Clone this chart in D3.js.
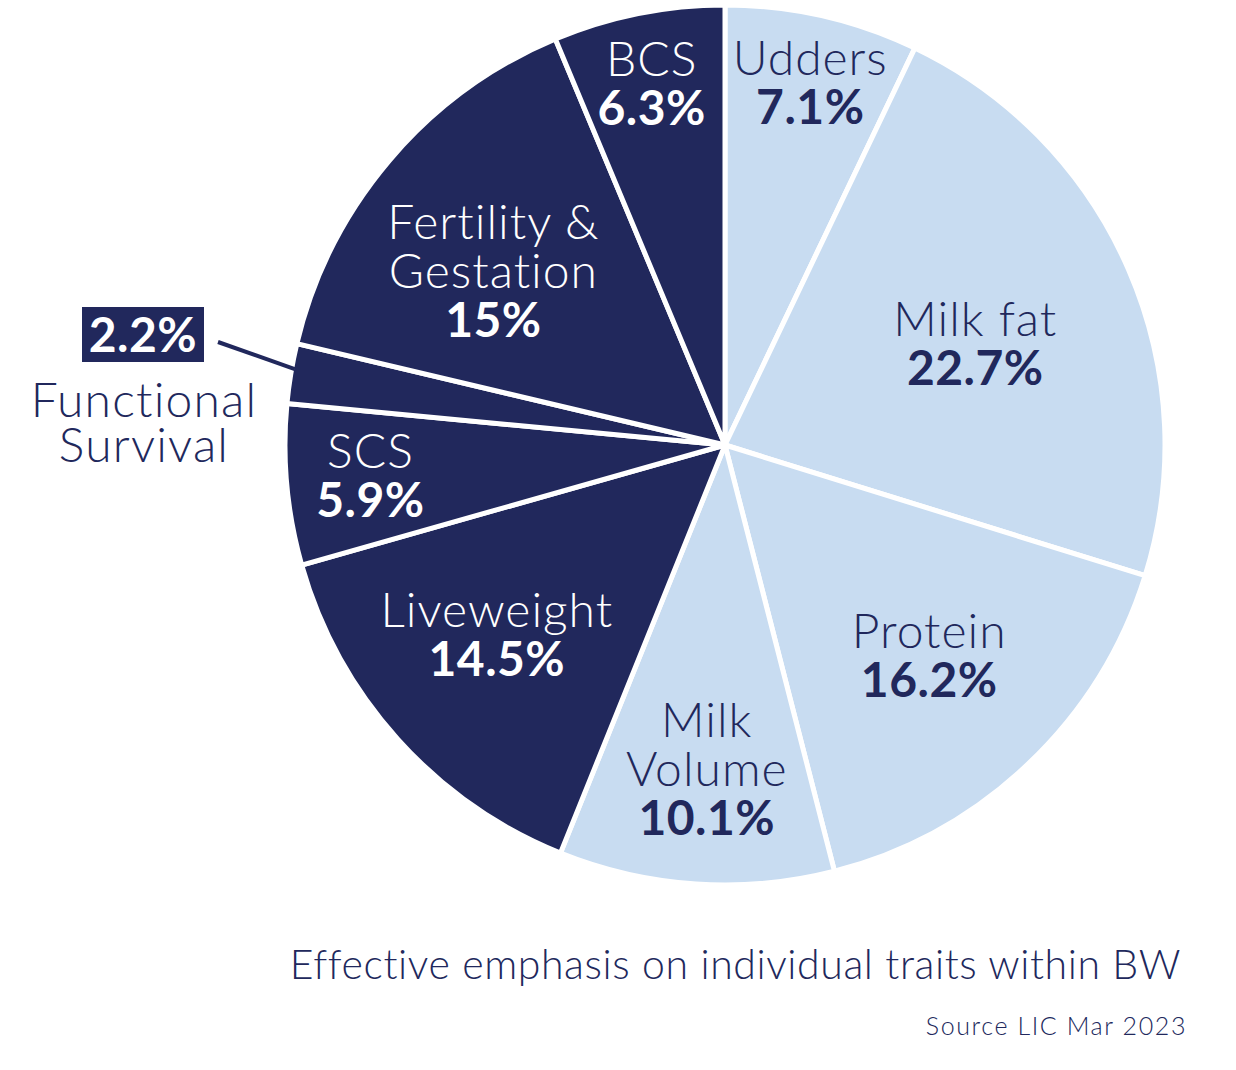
<!DOCTYPE html>
<html>
<head>
<meta charset="utf-8">
<script src="https://cdn.jsdelivr.net/npm/d3@7"></script>
<style>
  body { margin: 0; background: #fff; }
  text { font-family: Lato, "Noto Sans", sans-serif; font-variant-ligatures: none; font-feature-settings: "liga" 0; }
</style>
</head>
<body>
<div id="chart"></div>
<script>
(function() {
  // traits, clockwise from 12 o'clock
  var traits = ["Udders", "Milk fat", "Protein", "Milk Volume", "Liveweight", "SCS", "Functional Survival", "Fertility & Gestation", "BCS"];
  var emphasis = [7.1, 22.7, 16.2, 10.1, 14.5, 5.9, 2.2, 15, 6.3];
  var pctLabels = ["7.1%", "22.7%", "16.2%", "10.1%", "14.5%", "5.9%", "2.2%", "15%", "6.3%"];
  var group = ["milk", "milk", "milk", "milk", "other", "other", "other", "other", "other"];

  var width = 1236;
  var height = 1070;
  var cx = 725, cy = 445, radius = 440;

  var dark = "#21285c";
  var light = "#c8dcf1";

  // text lines per slice, distance from centre and a small nudge
  var nameLines = {
    "Udders": ["Udders"],
    "Milk fat": ["Milk fat"],
    "Protein": ["Protein"],
    "Milk Volume": ["Milk", "Volume"],
    "Liveweight": ["Liveweight"],
    "SCS": ["SCS"],
    "Fertility & Gestation": ["Fertility &", "Gestation"],
    "BCS": ["BCS"]
  };
  var labelR = {
    "Udders": 372, "Milk fat": 272, "Protein": 292, "Milk Volume": 322,
    "Liveweight": 296, "SCS": 354, "Fertility & Gestation": 288, "BCS": 368
  };
  var nudge = {
    "Udders": [3, 0], "Milk fat": [1, 7], "Protein": [3, -1], "Milk Volume": [3, 3],
    "Liveweight": [-8, -8], "SCS": [-2, -2], "Fertility & Gestation": [-12, 13], "BCS": [-1, 0]
  };

  var svg = d3.select("#chart")
    .append("svg")
    .attr("width", width)
    .attr("height", height);

  var rows = traits.map(function(t, i) {
    return { trait: t, value: emphasis[i], pct: pctLabels[i], group: group[i] };
  });

  var pie = d3.pie()
    .sort(null)
    .value(function(d) { return d.value; });

  var arc = d3.arc()
    .innerRadius(0)
    .outerRadius(radius);

  var color = d3.scaleOrdinal()
    .domain(["milk", "other"])
    .range([light, dark]);

  var arcs = pie(rows);

  var g = svg.append("g")
    .attr("transform", "translate(" + cx + "," + cy + ")");

  g.selectAll("path")
    .data(arcs)
    .enter()
    .append("path")
    .attr("d", arc)
    .attr("fill", function(d) { return color(d.data.group); })
    .attr("stroke", "#fff")
    .attr("stroke-width", 5)
    .attr("stroke-linejoin", "round");

  var lineH = 49;
  var fontSize = 48;

  // labels inside slices
  arcs.forEach(function(d) {
    var t = d.data.trait;
    if (!nameLines[t]) return;
    var lines = nameLines[t];
    var a = (d.startAngle + d.endAngle) / 2;
    var r = labelR[t];
    var x = r * Math.sin(a) + nudge[t][0];
    var y = -r * Math.cos(a) + nudge[t][1];
    var fill = d.data.group == "milk" ? dark : "#fff";
    var total = lines.length + 1;
    var top = y - (total - 1) * lineH / 2;
    var txt = g.append("text")
      .attr("text-anchor", "middle")
      .attr("fill", fill)
      .attr("font-size", fontSize);
    lines.forEach(function(l, j) {
      txt.append("tspan")
        .attr("x", x)
        .attr("y", top + j * lineH)
        .attr("dy", "0.35em")
        .attr("font-weight", 300)
        .attr("letter-spacing", 1)
        .text(l);
    });
    txt.append("tspan")
      .attr("x", x)
      .attr("y", top + lines.length * lineH)
      .attr("dy", "0.35em")
      .attr("font-weight", 700)
      .attr("letter-spacing", 0.5)
      .text(d.data.pct);
  });

  // Functional Survival sits outside with a leader line
  var fs = arcs[6];
  var fsA = (fs.startAngle + fs.endAngle) / 2;
  var edge = [cx + (radius - 4) * Math.sin(fsA), cy - (radius - 4) * Math.cos(fsA)];

  svg.append("line")
    .attr("x1", 218).attr("y1", 342)
    .attr("x2", edge[0]).attr("y2", edge[1] - 5)
    .attr("stroke", dark)
    .attr("stroke-width", 4);

  svg.append("rect")
    .attr("x", 82).attr("y", 307)
    .attr("width", 122).attr("height", 55)
    .attr("fill", dark);

  svg.append("text")
    .attr("x", 143).attr("y", 352)
    .attr("text-anchor", "middle")
    .attr("fill", "#fff")
    .attr("font-size", fontSize)
    .attr("font-weight", 700)
    .attr("letter-spacing", 0.5)
    .text(fs.data.pct);

  var fsText = svg.append("text")
    .attr("text-anchor", "middle")
    .attr("fill", dark)
    .attr("font-size", fontSize)
    .attr("font-weight", 300)
    .attr("letter-spacing", 1.2);
  ["Functional", "Survival"].forEach(function(l, j) {
    fsText.append("tspan")
      .attr("x", 144)
      .attr("y", 417 + j * 45)
      .text(l);
  });

  // caption and source
  svg.append("text")
    .attr("x", 1181).attr("y", 979)
    .attr("text-anchor", "end")
    .attr("fill", dark)
    .attr("font-size", 41)
    .attr("font-weight", 300)
    .attr("letter-spacing", 0.6)
    .text("Effective emphasis on individual traits within BW");

  svg.append("text")
    .attr("x", 1187).attr("y", 1035)
    .attr("text-anchor", "end")
    .attr("fill", dark)
    .attr("font-size", 25)
    .attr("font-weight", 300)
    .attr("letter-spacing", 1.6)
    .text("Source LIC Mar 2023");
})();
</script>
</body>
</html>
